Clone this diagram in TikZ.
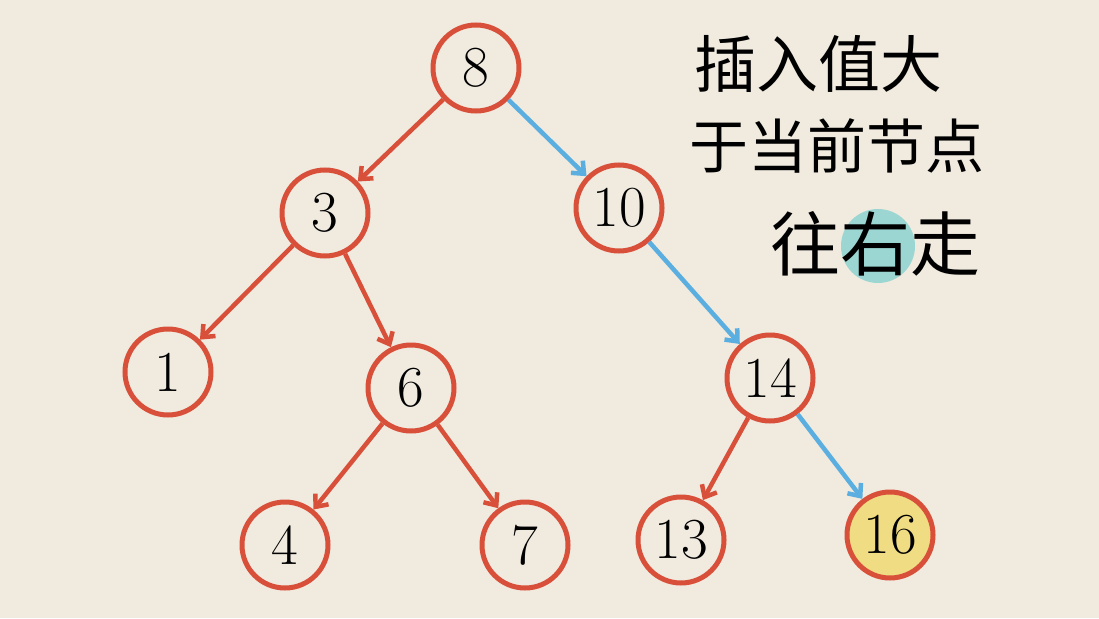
\documentclass[tikz,border=0pt]{standalone}
\usepackage{fontspec}
\newfontfamily\cjk{Noto Sans CJK SC}
\usetikzlibrary{arrows.meta}
\definecolor{bg}{HTML}{F0EADF}
\definecolor{nred}{HTML}{D9503A}
\definecolor{nblue}{HTML}{5AAEE0}
\definecolor{nyel}{HTML}{F0DC82}
\definecolor{nteal}{HTML}{86D2CF}
\begin{document}
\begin{tikzpicture}[x=1pt,y=-1pt,
  tnode/.style={circle,draw=nred,line width=5pt,minimum size=86pt,inner sep=0pt,font=\fontsize{58}{58}\selectfont},
  redarr/.style={draw=nred,line width=4.5pt,-{Straight Barb[length=10pt,width=17pt,line width=4.5pt]}},
  bluearr/.style={draw=nblue,line width=4.5pt,-{Straight Barb[length=10pt,width=17pt,line width=4.5pt]}},
  cjktext/.style={anchor=west,inner sep=0pt}]
\fill[bg] (0,0) rectangle (1099,618);
\useasboundingbox (0,0) rectangle (1099,618);
\fill[nteal,opacity=0.8] (878,246) circle (37);
\node[tnode] (n8) at (476,68) {8};
\node[tnode] (n3) at (325,213) {3};
\node[tnode] (n10) at (619,208) {10};
\node[tnode] (n1) at (168,372) {1};
\node[tnode] (n6) at (411,388) {6};
\node[tnode] (n14) at (770,378) {14};
\node[tnode] (n4) at (285,545) {4};
\node[tnode] (n7) at (525,545) {7};
\node[tnode] (n13) at (681,540) {13};
\node[tnode,fill=nyel] (n16) at (890,535) {16};
\draw[redarr] (n8) -- (n3);
\draw[bluearr] (n8) -- (n10);
\draw[redarr] (n3) -- (n1);
\draw[redarr] (n3) -- (n6);
\draw[redarr] (n6) -- (n4);
\draw[redarr] (n6) -- (n7);
\draw[bluearr] (n10) -- (n14);
\draw[redarr] (n14) -- (n13);
\draw[bluearr] (n14) -- (n16);
\node[cjktext,font=\cjk\fontsize{62}{62}\selectfont] (t1) at (694,64) {插入值大};
\node[cjktext,font=\cjk\fontsize{59}{59}\selectfont] (t2) at (689,146) {于当前节点};
\node[cjktext,font=\cjk\fontsize{70}{70}\selectfont] (t3) at (770,244) {往右走};
\end{tikzpicture}
\end{document}
